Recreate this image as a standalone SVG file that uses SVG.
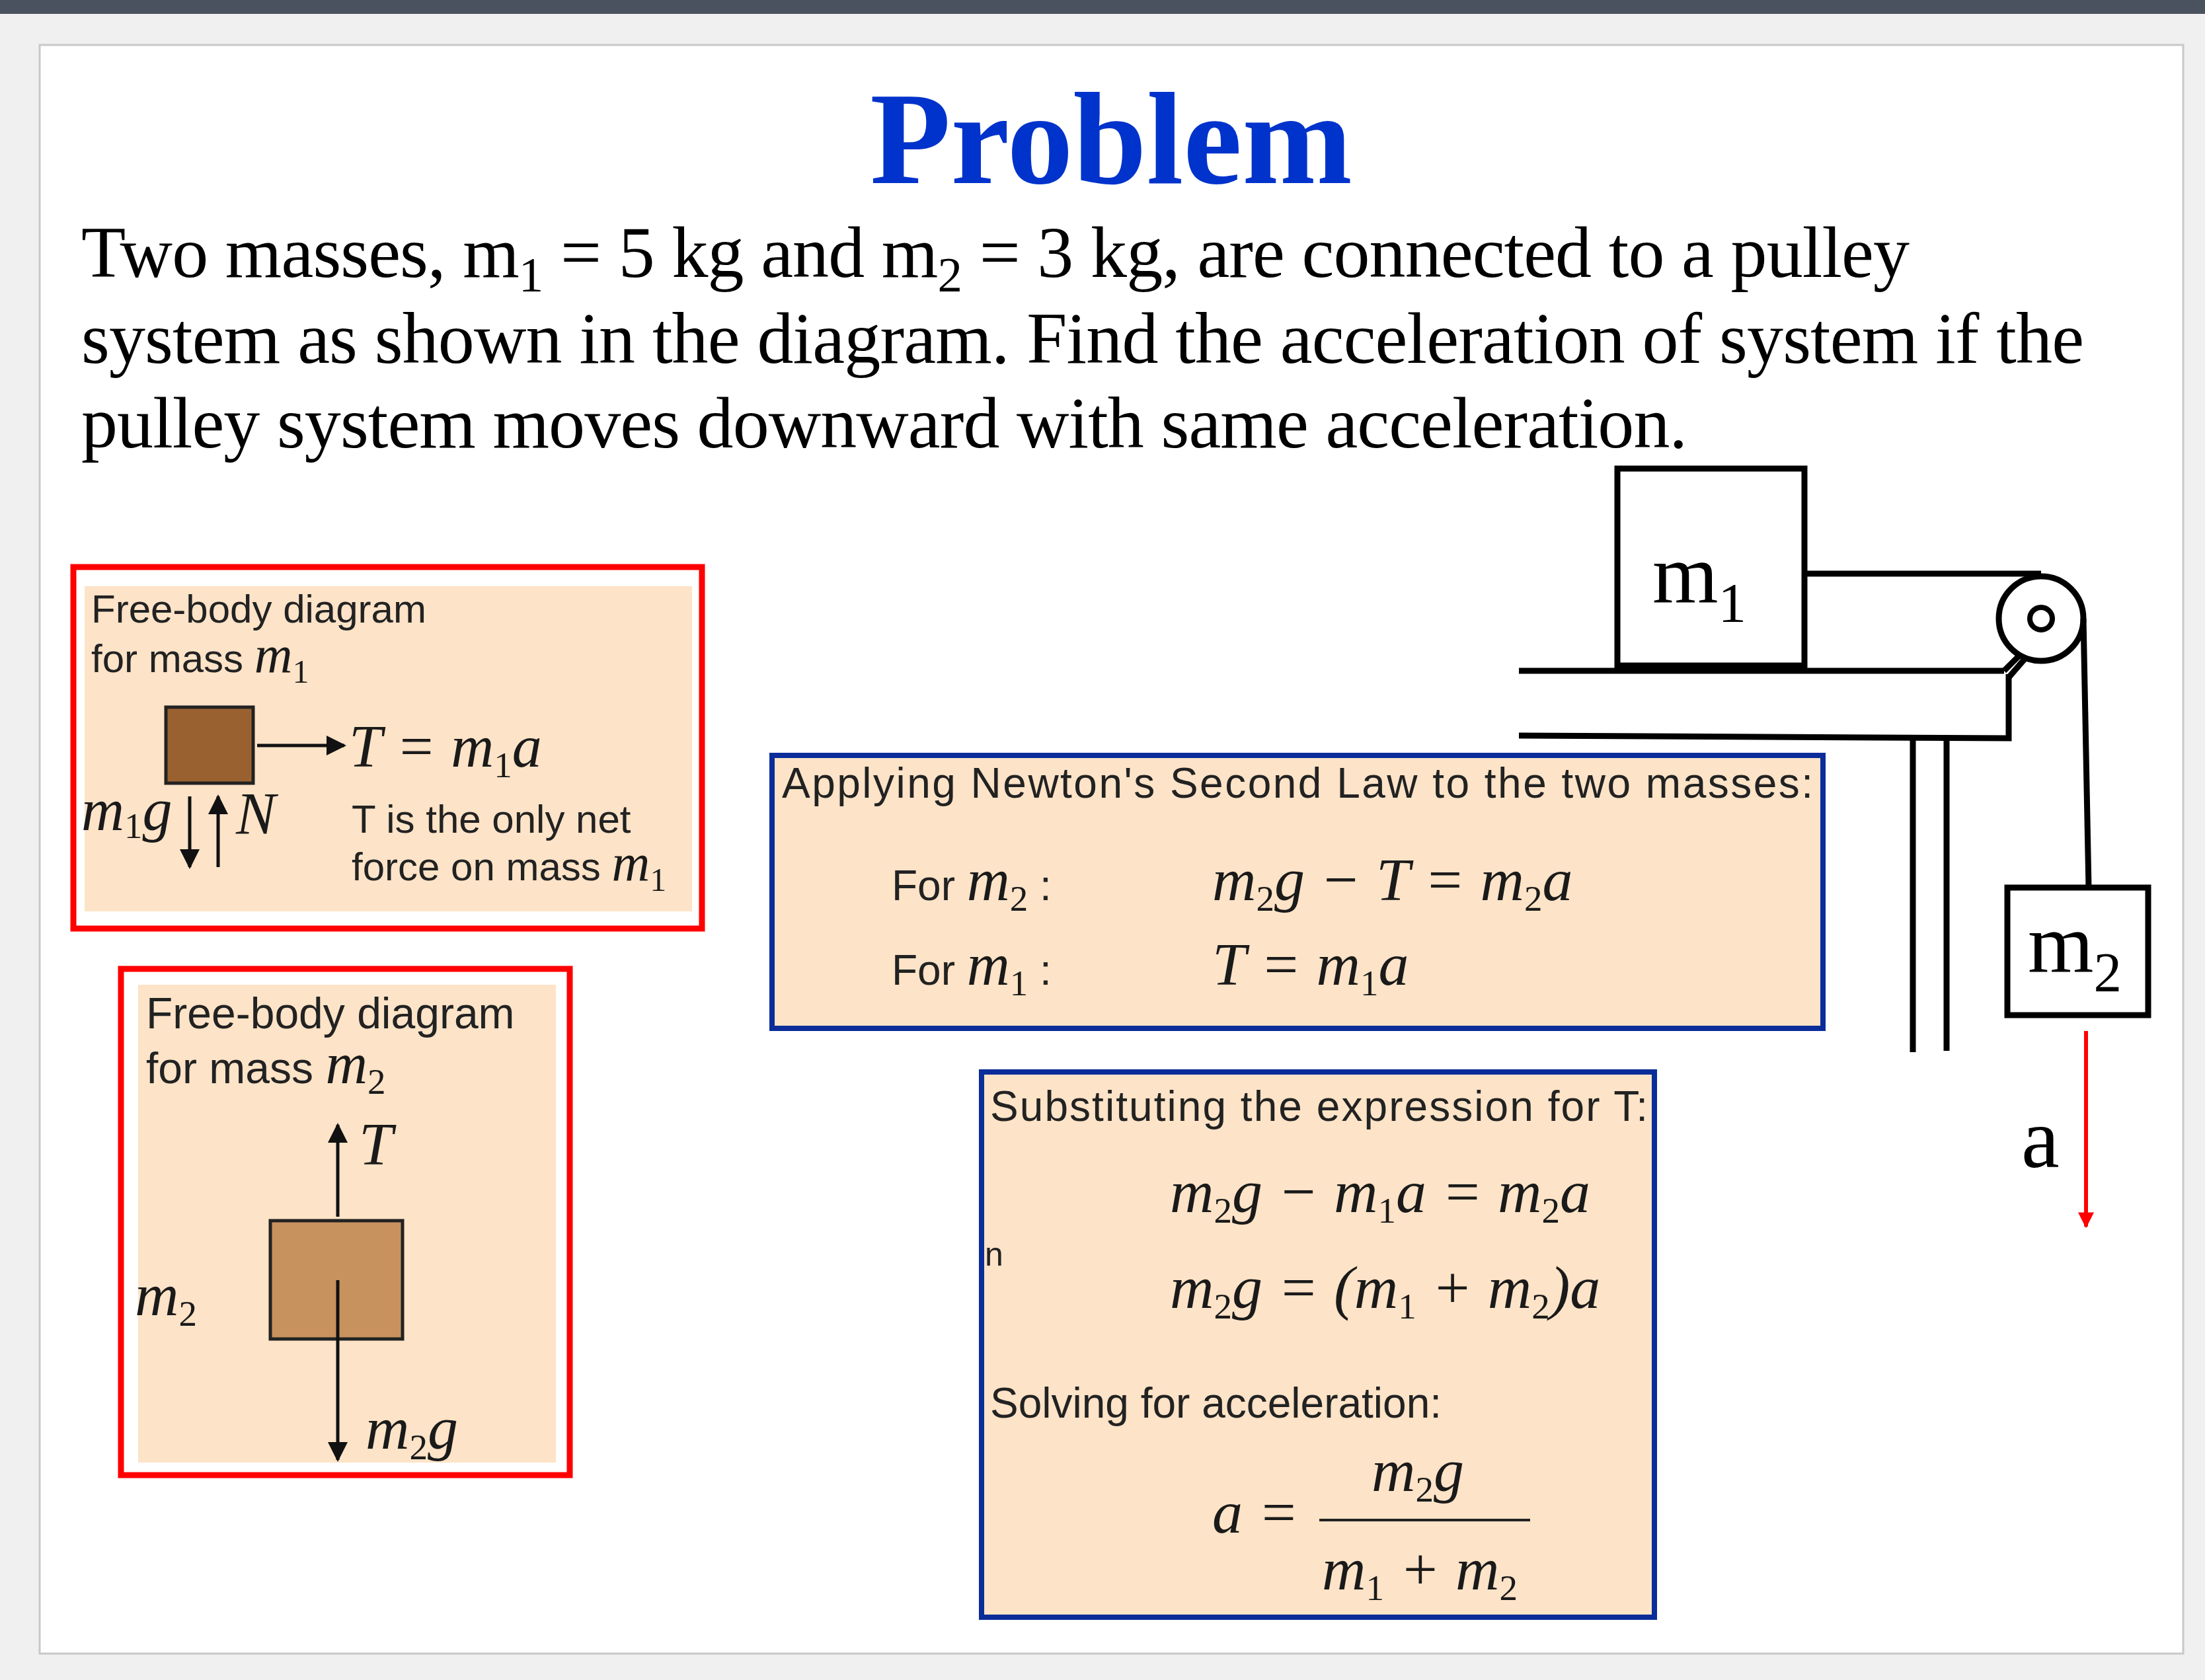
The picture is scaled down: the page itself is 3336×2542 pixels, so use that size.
<svg xmlns="http://www.w3.org/2000/svg" width="3336" height="2542" viewBox="0 0 3336 2542">
<style>
.ser{font-family:"Liberation Serif","Times New Roman",serif;fill:#000}
.it{font-family:"Liberation Serif","Times New Roman",serif;font-style:italic;fill:#1a1a1a}
.s{font-style:normal}
.san{font-family:"Liberation Sans",Arial,sans-serif;fill:#222}
.peach{fill:#fde3c7}
.rbox{fill:#fff;stroke:#f00;stroke-width:9}
.bbox{fill:#fde3c7;stroke:#0a2d9a;stroke-width:8}
.ln{stroke:#000;stroke-width:9;fill:none}
.fl{stroke:#111;stroke-width:5;fill:none}
</style>
<defs>
<marker id="ah" viewBox="0 0 10 10" refX="9" refY="5" markerWidth="6" markerHeight="6" orient="auto"><path d="M0,0L10,5L0,10z" fill="#111"/></marker>
<marker id="ahr" viewBox="0 0 10 10" refX="9" refY="5" markerWidth="4" markerHeight="4" orient="auto"><path d="M0,0L10,5L0,10z" fill="#f00"/></marker>
</defs>
<rect width="3336" height="2542" fill="#f0f0f0"/>
<rect width="3336" height="21" fill="#4a5260"/>
<rect x="60" y="68" width="3243" height="2434" fill="#fff" stroke="#c8c8c8" stroke-width="3"/>
<text x="1681" y="277" text-anchor="middle" class="ser" style="font-size:200px;font-weight:bold;fill:#0033cc">Problem</text>
<g class="ser" style="font-size:110px">
<text x="123" y="419" textLength="2766">Two masses, m<tspan dy="22" font-size="75">1</tspan><tspan dy="-22"> = 5 kg and m</tspan><tspan dy="22" font-size="75">2</tspan><tspan dy="-22"> = 3 kg, are connected to a pulley</tspan></text>
<text x="123" y="549" textLength="3030">system as shown in the diagram. Find the acceleration of system if the</text>
<text x="123" y="677" textLength="2430">pulley system moves downward with same acceleration.</text>
</g>
<g id="fbd1">
<rect class="rbox" x="111" y="858" width="951" height="547"/>
<rect class="peach" x="128" y="887" width="919" height="492"/>
<text x="138" y="942" class="san" font-size="60">Free-body diagram</text>
<text x="138" y="1017" class="san" font-size="60">for mass <tspan class="it" font-size="80">m</tspan><tspan class="it s" font-size="50" dy="16">1</tspan></text>
<rect x="251" y="1070" width="132" height="115" fill="#9a6130" stroke="#222" stroke-width="5"/>
<line x1="389" y1="1128" x2="521" y2="1128" class="fl" marker-end="url(#ah)"/>
<text x="528" y="1160" class="it" font-size="90">T = m<tspan class="s" font-size="55" dy="16">1</tspan><tspan dy="-16">a</tspan></text>
<text x="123" y="1256" class="it" font-size="90">m<tspan class="s" font-size="55" dy="12">1</tspan><tspan dy="-12">g</tspan></text>
<line x1="287" y1="1205" x2="287" y2="1312" class="fl" marker-end="url(#ah)"/>
<line x1="330" y1="1312" x2="330" y2="1205" class="fl" marker-end="url(#ah)"/>
<text x="357" y="1262" class="it" font-size="90">N</text>
<text x="532" y="1260" class="san" font-size="60">T is the only net</text>
<text x="532" y="1332" class="san" font-size="60">force on mass <tspan class="it" font-size="80">m</tspan><tspan class="it s" font-size="50" dy="16">1</tspan></text>
</g>
<g id="fbd2">
<rect class="rbox" x="183" y="1466" width="679" height="766"/>
<rect class="peach" x="209" y="1490" width="632" height="723"/>
<text x="221" y="1556" class="san" font-size="66">Free-body diagram</text>
<text x="221" y="1639" class="san" font-size="66">for mass <tspan class="it" font-size="88">m</tspan><tspan class="it s" font-size="55" dy="16">2</tspan></text>
<line x1="511" y1="1841" x2="511" y2="1702" class="fl" marker-end="url(#ah)"/>
<text x="543" y="1762" class="it" font-size="92">T</text>
<rect x="409" y="1847" width="200" height="179" fill="#c8925e" stroke="#222" stroke-width="5"/>
<line x1="511" y1="1937" x2="511" y2="2209" class="fl" marker-end="url(#ah)"/>
<text x="204" y="1990" class="it" font-size="92">m<tspan class="s" font-size="55" dy="16">2</tspan></text>
<text x="553" y="2192" class="it" font-size="92">m<tspan class="s" font-size="55" dy="16">2</tspan><tspan dy="-16">g</tspan></text>
</g>
<g id="newton">
<rect class="bbox" x="1168" y="1143" width="1590" height="413"/>
<text x="1183" y="1207" class="san" font-size="64" textLength="1560">Applying Newton's Second Law to the two masses:</text>
<text x="1349" y="1362" class="san" font-size="64">For <tspan class="it" font-size="90">m</tspan><tspan class="it s" font-size="55" dy="16">2</tspan><tspan dy="-16"> :</tspan></text>
<text x="1834" y="1362" class="it" font-size="92">m<tspan class="s" font-size="55" dy="16">2</tspan><tspan dy="-16">g − T = m</tspan><tspan class="s" font-size="55" dy="16">2</tspan><tspan dy="-16">a</tspan></text>
<text x="1349" y="1490" class="san" font-size="64">For <tspan class="it" font-size="90">m</tspan><tspan class="it s" font-size="55" dy="16">1</tspan><tspan dy="-16">  :</tspan></text>
<text x="1834" y="1490" class="it" font-size="92">T = m<tspan class="s" font-size="55" dy="16">1</tspan><tspan dy="-16">a</tspan></text>
</g>
<g id="subst">
<rect class="bbox" x="1485" y="1622" width="1018" height="825"/>
<text x="1498" y="1696" class="san" font-size="64" textLength="995">Substituting the expression for T:</text>
<text x="1770" y="1834" class="it" font-size="92">m<tspan class="s" font-size="55" dy="16">2</tspan><tspan dy="-16">g − m</tspan><tspan class="s" font-size="55" dy="16">1</tspan><tspan dy="-16">a = m</tspan><tspan class="s" font-size="55" dy="16">2</tspan><tspan dy="-16">a</tspan></text>
<text x="1490" y="1915" class="san" font-size="50">n</text>
<text x="1770" y="1979" class="it" font-size="92">m<tspan class="s" font-size="55" dy="16">2</tspan><tspan dy="-16">g = (m</tspan><tspan class="s" font-size="55" dy="16">1</tspan><tspan dy="-16"> + m</tspan><tspan class="s" font-size="55" dy="16">2</tspan><tspan dy="-16">)a</tspan></text>
<text x="1498" y="2145" class="san" font-size="64">Solving for acceleration:</text>
<text x="1834" y="2319" class="it" font-size="92">a =</text>
<line x1="1996" y1="2300" x2="2315" y2="2300" stroke="#222" stroke-width="4"/>
<text x="2075" y="2256" class="it" font-size="92">m<tspan class="s" font-size="55" dy="16">2</tspan><tspan dy="-16">g</tspan></text>
<text x="2000" y="2405" class="it" font-size="92">m<tspan class="s" font-size="55" dy="16">1</tspan><tspan dy="-16"> + m</tspan><tspan class="s" font-size="55" dy="16">2</tspan></text>
</g>
<g id="pulley">
<polyline class="ln" points="2298,1015 3032,1015"/>
<polyline class="ln" points="2298,1113 3039,1117 3039,1020"/>
<line class="ln" x1="3032" y1="1015" x2="3055" y2="992"/>
<line class="ln" x1="3039" y1="1025" x2="3065" y2="995"/>
<line class="ln" x1="2894" y1="1117" x2="2894" y2="1592"/>
<line class="ln" x1="2945" y1="1117" x2="2945" y2="1590"/>
<rect class="ln" x="2447" y="709" width="283" height="298" fill="#fff"/>
<text x="2500" y="911" class="ser" font-size="128">m<tspan font-size="85" dy="30">1</tspan></text>
<path class="ln" d="M2730,868 L3088,868"/>
<circle class="ln" cx="3088" cy="936" r="64" fill="#fff"/>
<circle cx="3088" cy="936" r="17" fill="none" stroke="#000" stroke-width="8"/>
<line class="ln" x1="3152" y1="936" x2="3160" y2="1343"/>
<rect class="ln" x="3037" y="1343" width="213" height="193" fill="#fff"/>
<text x="3068" y="1470" class="ser" font-size="128">m<tspan font-size="85" dy="30">2</tspan></text>
<line x1="3156" y1="1560" x2="3156" y2="1856" stroke="#f00" stroke-width="6" marker-end="url(#ahr)"/>
<text x="3058" y="1766" class="ser" font-size="130">a</text>
</g>
</svg>
